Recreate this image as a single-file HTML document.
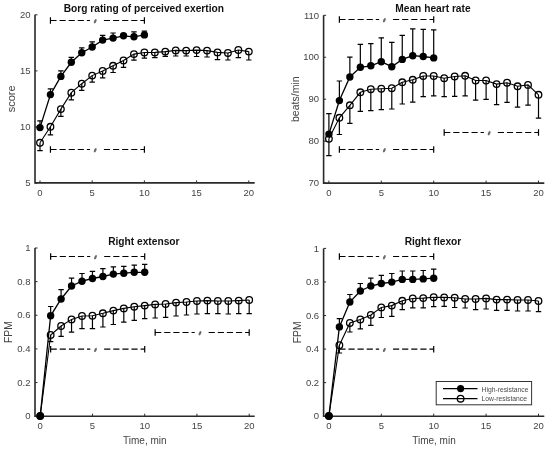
<!DOCTYPE html>
<html><head><meta charset="utf-8"><style>
html,body{margin:0;padding:0;background:#fff;}
svg{display:block;will-change:transform;}
text{font-family:"Liberation Sans",sans-serif;}
.t{font-size:9.5px;fill:#444;}
.ti{font-size:10.2px;font-weight:bold;fill:#111;}
.yl{font-size:10px;fill:#444;}
.lg{font-size:6.75px;fill:#4a4a4a;}
.hs{font-size:6px;fill:#444;font-style:italic;}
</style></head><body>
<svg width="550" height="449" viewBox="0 0 550 449">
<rect width="550" height="449" fill="#fff"/>
<path d="M35 14.8V182.9H254.7" fill="none" stroke="#2a2a2a" stroke-width="1.6"/>
<path d="M40 182.9v-2.5M92.2 182.9v-2.5M144.4 182.9v-2.5M196.6 182.9v-2.5M248.8 182.9v-2.5M35 183.1h2.5M35 127h2.5M35 70.9h2.5M35 14.8h2.5" stroke="#2a2a2a" stroke-width="1"/>
<text x="40" y="196" text-anchor="middle" class="t">0</text>
<text x="92.2" y="196" text-anchor="middle" class="t">5</text>
<text x="144.4" y="196" text-anchor="middle" class="t">10</text>
<text x="196.6" y="196" text-anchor="middle" class="t">15</text>
<text x="248.8" y="196" text-anchor="middle" class="t">20</text>
<text x="30.5" y="186.3" text-anchor="end" class="t">5</text>
<text x="30.5" y="130.2" text-anchor="end" class="t">10</text>
<text x="30.5" y="74.1" text-anchor="end" class="t">15</text>
<text x="30.5" y="18" text-anchor="end" class="t">20</text>
<text x="143.85" y="11.8" text-anchor="middle" class="ti">Borg rating of perceived exertion</text>
<text x="15.4" y="98.85" transform="rotate(-90 15.4 98.85)" text-anchor="middle" class="yl" style="font-size:11px">score</text>
<path d="M50.44 17.2v6.6M144.4 17.2v6.6" stroke="#000" stroke-width="1.2"/>
<path d="M50.44 20.5H90.02M103.92 20.5H144.4" stroke="#000" stroke-width="1.2" stroke-dasharray="6.15 2.95"/>
<ellipse cx="95.22" cy="21.2" rx="1.15" ry="2.3" transform="rotate(25 95.22 21.2)" fill="#6a6a6a"/>
<path d="M50.44 146.2v6.6M144.4 146.2v6.6" stroke="#000" stroke-width="1.2"/>
<path d="M50.44 149.5H90.02M103.92 149.5H144.4" stroke="#000" stroke-width="1.2" stroke-dasharray="6.15 2.95"/>
<ellipse cx="95.22" cy="150.2" rx="1.15" ry="2.3" transform="rotate(25 95.22 150.2)" fill="#6a6a6a"/>
<path d="M40 142.8L50.44 126.8L60.88 109.1L71.32 92.7L81.76 83.7L92.2 75.6L102.64 70.9L113.08 65.8L123.52 60.5L133.96 54.1L144.4 52.5L154.84 52.4L165.28 51.6L175.72 50.4L186.16 50.6L196.6 50.1L207.04 50.6L217.48 52.4L227.92 53L238.36 50L248.8 51.6" fill="none" stroke="#000" stroke-width="1.1"/>
<path d="M40 127.6L50.44 94.6L60.88 76.4L71.32 62.3L81.76 52.7L92.2 47L102.64 40.1L113.08 38.1L123.52 35.8L133.96 36.8L144.4 34.9" fill="none" stroke="#000" stroke-width="1.3"/>
<path d="M40 127.6V120.8M37.3 120.8h5.4M50.44 94.6V88.8M47.74 88.8h5.4M60.88 76.4V70.9M58.18 70.9h5.4M71.32 62.3V57.4M68.62 57.4h5.4M81.76 52.7V47.8M79.06 47.8h5.4M92.2 47V41.9M89.5 41.9h5.4M102.64 40.1V35.3M99.94 35.3h5.4M113.08 38.1V33M110.38 33h5.4M133.96 36.8V31.8M131.26 31.8h5.4M144.4 34.9V31.2M141.7 31.2h5.4M40 142.8V150.7M37.3 150.7h5.4M50.44 126.8V134.8M47.74 134.8h5.4M60.88 109.1V116.4M58.18 116.4h5.4M71.32 92.7V99.8M68.62 99.8h5.4M81.76 83.7V90.4M79.06 90.4h5.4M92.2 75.6V82.1M89.5 82.1h5.4M102.64 70.9V77.9M99.94 77.9h5.4M113.08 65.8V72.5M110.38 72.5h5.4M123.52 60.5V67.3M120.82 67.3h5.4M133.96 54.1V60.1M131.26 60.1h5.4M144.4 52.5V58.2M141.7 58.2h5.4M154.84 52.4V57.6M152.14 57.6h5.4M165.28 51.6V56.4M162.58 56.4h5.4M175.72 50.4V56M173.02 56h5.4M186.16 50.6V56M183.46 56h5.4M196.6 50.1V56.5M193.9 56.5h5.4M207.04 50.6V57M204.34 57h5.4M217.48 52.4V59.6M214.78 59.6h5.4M227.92 53V60M225.22 60h5.4M238.36 50V57.6M235.66 57.6h5.4M248.8 51.6V60M246.1 60h5.4" fill="none" stroke="#000" stroke-width="1.2"/>
<circle cx="40" cy="142.8" r="3.3" fill="none" stroke="#000" stroke-width="1.3"/>
<circle cx="50.44" cy="126.8" r="3.3" fill="none" stroke="#000" stroke-width="1.3"/>
<circle cx="60.88" cy="109.1" r="3.3" fill="none" stroke="#000" stroke-width="1.3"/>
<circle cx="71.32" cy="92.7" r="3.3" fill="none" stroke="#000" stroke-width="1.3"/>
<circle cx="81.76" cy="83.7" r="3.3" fill="none" stroke="#000" stroke-width="1.3"/>
<circle cx="92.2" cy="75.6" r="3.3" fill="none" stroke="#000" stroke-width="1.3"/>
<circle cx="102.64" cy="70.9" r="3.3" fill="none" stroke="#000" stroke-width="1.3"/>
<circle cx="113.08" cy="65.8" r="3.3" fill="none" stroke="#000" stroke-width="1.3"/>
<circle cx="123.52" cy="60.5" r="3.3" fill="none" stroke="#000" stroke-width="1.3"/>
<circle cx="133.96" cy="54.1" r="3.3" fill="none" stroke="#000" stroke-width="1.3"/>
<circle cx="144.4" cy="52.5" r="3.3" fill="none" stroke="#000" stroke-width="1.3"/>
<circle cx="154.84" cy="52.4" r="3.3" fill="none" stroke="#000" stroke-width="1.3"/>
<circle cx="165.28" cy="51.6" r="3.3" fill="none" stroke="#000" stroke-width="1.3"/>
<circle cx="175.72" cy="50.4" r="3.3" fill="none" stroke="#000" stroke-width="1.3"/>
<circle cx="186.16" cy="50.6" r="3.3" fill="none" stroke="#000" stroke-width="1.3"/>
<circle cx="196.6" cy="50.1" r="3.3" fill="none" stroke="#000" stroke-width="1.3"/>
<circle cx="207.04" cy="50.6" r="3.3" fill="none" stroke="#000" stroke-width="1.3"/>
<circle cx="217.48" cy="52.4" r="3.3" fill="none" stroke="#000" stroke-width="1.3"/>
<circle cx="227.92" cy="53" r="3.3" fill="none" stroke="#000" stroke-width="1.3"/>
<circle cx="238.36" cy="50" r="3.3" fill="none" stroke="#000" stroke-width="1.3"/>
<circle cx="248.8" cy="51.6" r="3.3" fill="none" stroke="#000" stroke-width="1.3"/>
<circle cx="40" cy="127.6" r="3.7" fill="#000"/>
<circle cx="50.44" cy="94.6" r="3.7" fill="#000"/>
<circle cx="60.88" cy="76.4" r="3.7" fill="#000"/>
<circle cx="71.32" cy="62.3" r="3.7" fill="#000"/>
<circle cx="81.76" cy="52.7" r="3.7" fill="#000"/>
<circle cx="92.2" cy="47" r="3.7" fill="#000"/>
<circle cx="102.64" cy="40.1" r="3.7" fill="#000"/>
<circle cx="113.08" cy="38.1" r="3.7" fill="#000"/>
<circle cx="123.52" cy="35.8" r="3.7" fill="#000"/>
<circle cx="133.96" cy="36.8" r="3.7" fill="#000"/>
<circle cx="144.4" cy="34.9" r="3.7" fill="#000"/>
<path d="M323.6 15.3V183.1H544.3" fill="none" stroke="#2a2a2a" stroke-width="1.6"/>
<path d="M328.9 183.1v-2.5M381.3 183.1v-2.5M433.7 183.1v-2.5M486.1 183.1v-2.5M538.5 183.1v-2.5M323.6 183.1h2.5M323.6 141.15h2.5M323.6 99.2h2.5M323.6 57.25h2.5M323.6 15.3h2.5" stroke="#2a2a2a" stroke-width="1"/>
<text x="328.9" y="196.2" text-anchor="middle" class="t">0</text>
<text x="381.3" y="196.2" text-anchor="middle" class="t">5</text>
<text x="433.7" y="196.2" text-anchor="middle" class="t">10</text>
<text x="486.1" y="196.2" text-anchor="middle" class="t">15</text>
<text x="538.5" y="196.2" text-anchor="middle" class="t">20</text>
<text x="319.1" y="186.3" text-anchor="end" class="t">70</text>
<text x="319.1" y="144.35" text-anchor="end" class="t">80</text>
<text x="319.1" y="102.4" text-anchor="end" class="t">90</text>
<text x="319.1" y="60.45" text-anchor="end" class="t">100</text>
<text x="319.1" y="18.5" text-anchor="end" class="t">110</text>
<text x="432.95" y="12.3" text-anchor="middle" class="ti">Mean heart rate</text>
<text x="298.8" y="99.2" transform="rotate(-90 298.8 99.2)" text-anchor="middle" class="yl" style="font-size:10.5px">beats/min</text>
<path d="M339.38 16.2v6.6M433.7 16.2v6.6" stroke="#000" stroke-width="1.2"/>
<path d="M339.38 19.5H379.14M393.04 19.5H433.7" stroke="#000" stroke-width="1.2" stroke-dasharray="6.15 2.95"/>
<ellipse cx="384.34" cy="20.2" rx="1.15" ry="2.3" transform="rotate(25 384.34 20.2)" fill="#6a6a6a"/>
<path d="M339.38 146.2v6.6M433.7 146.2v6.6" stroke="#000" stroke-width="1.2"/>
<path d="M339.38 149.5H379.14M393.04 149.5H433.7" stroke="#000" stroke-width="1.2" stroke-dasharray="6.15 2.95"/>
<ellipse cx="384.34" cy="150.2" rx="1.15" ry="2.3" transform="rotate(25 384.34 150.2)" fill="#6a6a6a"/>
<path d="M444.18 129.2v6.6M538.5 129.2v6.6" stroke="#000" stroke-width="1.2"/>
<path d="M444.18 132.5H483.94M497.84 132.5H538.5" stroke="#000" stroke-width="1.2" stroke-dasharray="6.15 2.95"/>
<ellipse cx="489.14" cy="133.2" rx="1.15" ry="2.3" transform="rotate(25 489.14 133.2)" fill="#6a6a6a"/>
<path d="M328.9 138.8L339.38 117.8L349.86 105.3L360.34 92.3L370.82 89.2L381.3 88.7L391.78 88.2L402.26 82.3L412.74 79.8L423.22 76L433.7 76L444.18 78.2L454.66 76.5L465.14 75.8L475.62 80.5L486.1 80.5L496.58 84.1L507.06 82.7L517.54 86.3L528.02 84.9L538.5 94.8" fill="none" stroke="#000" stroke-width="1.1"/>
<path d="M328.9 134.1L339.38 100.6L349.86 77L360.34 67.3L370.82 65.8L381.3 61.7L391.78 66.7L402.26 59.4L412.74 55.7L423.22 56.5L433.7 57.9" fill="none" stroke="#000" stroke-width="1.3"/>
<path d="M328.9 134.1V113.7M326.2 113.7h5.4M339.38 100.6V81M336.68 81h5.4M349.86 77V57.1M347.16 57.1h5.4M360.34 67.3V44.4M357.64 44.4h5.4M370.82 65.8V43.6M368.12 43.6h5.4M381.3 61.7V37.8M378.6 37.8h5.4M391.78 66.7V42.4M389.08 42.4h5.4M402.26 59.4V35.4M399.56 35.4h5.4M412.74 55.7V28.8M410.04 28.8h5.4M423.22 56.5V29.3M420.52 29.3h5.4M433.7 57.9V29.8M431 29.8h5.4M328.9 138.8V155.6M326.2 155.6h5.4M339.38 117.8V134.5M336.68 134.5h5.4M349.86 105.3V123.3M347.16 123.3h5.4M360.34 92.3V111.3M357.64 111.3h5.4M370.82 89.2V110.6M368.12 110.6h5.4M381.3 88.7V109.6M378.6 109.6h5.4M391.78 88.2V109M389.08 109h5.4M402.26 82.3V104M399.56 104h5.4M412.74 79.8V102.1M410.04 102.1h5.4M423.22 76V96.7M420.52 96.7h5.4M433.7 76V95.8M431 95.8h5.4M444.18 78.2V96.7M441.48 96.7h5.4M454.66 76.5V96.3M451.96 96.3h5.4M465.14 75.8V95.8M462.44 95.8h5.4M475.62 80.5V100.2M472.92 100.2h5.4M486.1 80.5V99.4M483.4 99.4h5.4M496.58 84.1V104.6M493.88 104.6h5.4M507.06 82.7V102.3M504.36 102.3h5.4M517.54 86.3V107.2M514.84 107.2h5.4M528.02 84.9V105.1M525.32 105.1h5.4M538.5 94.8V118.2M535.8 118.2h5.4" fill="none" stroke="#000" stroke-width="1.2"/>
<circle cx="328.9" cy="138.8" r="3.3" fill="none" stroke="#000" stroke-width="1.3"/>
<circle cx="339.38" cy="117.8" r="3.3" fill="none" stroke="#000" stroke-width="1.3"/>
<circle cx="349.86" cy="105.3" r="3.3" fill="none" stroke="#000" stroke-width="1.3"/>
<circle cx="360.34" cy="92.3" r="3.3" fill="none" stroke="#000" stroke-width="1.3"/>
<circle cx="370.82" cy="89.2" r="3.3" fill="none" stroke="#000" stroke-width="1.3"/>
<circle cx="381.3" cy="88.7" r="3.3" fill="none" stroke="#000" stroke-width="1.3"/>
<circle cx="391.78" cy="88.2" r="3.3" fill="none" stroke="#000" stroke-width="1.3"/>
<circle cx="402.26" cy="82.3" r="3.3" fill="none" stroke="#000" stroke-width="1.3"/>
<circle cx="412.74" cy="79.8" r="3.3" fill="none" stroke="#000" stroke-width="1.3"/>
<circle cx="423.22" cy="76" r="3.3" fill="none" stroke="#000" stroke-width="1.3"/>
<circle cx="433.7" cy="76" r="3.3" fill="none" stroke="#000" stroke-width="1.3"/>
<circle cx="444.18" cy="78.2" r="3.3" fill="none" stroke="#000" stroke-width="1.3"/>
<circle cx="454.66" cy="76.5" r="3.3" fill="none" stroke="#000" stroke-width="1.3"/>
<circle cx="465.14" cy="75.8" r="3.3" fill="none" stroke="#000" stroke-width="1.3"/>
<circle cx="475.62" cy="80.5" r="3.3" fill="none" stroke="#000" stroke-width="1.3"/>
<circle cx="486.1" cy="80.5" r="3.3" fill="none" stroke="#000" stroke-width="1.3"/>
<circle cx="496.58" cy="84.1" r="3.3" fill="none" stroke="#000" stroke-width="1.3"/>
<circle cx="507.06" cy="82.7" r="3.3" fill="none" stroke="#000" stroke-width="1.3"/>
<circle cx="517.54" cy="86.3" r="3.3" fill="none" stroke="#000" stroke-width="1.3"/>
<circle cx="528.02" cy="84.9" r="3.3" fill="none" stroke="#000" stroke-width="1.3"/>
<circle cx="538.5" cy="94.8" r="3.3" fill="none" stroke="#000" stroke-width="1.3"/>
<circle cx="328.9" cy="134.1" r="3.7" fill="#000"/>
<circle cx="339.38" cy="100.6" r="3.7" fill="#000"/>
<circle cx="349.86" cy="77" r="3.7" fill="#000"/>
<circle cx="360.34" cy="67.3" r="3.7" fill="#000"/>
<circle cx="370.82" cy="65.8" r="3.7" fill="#000"/>
<circle cx="381.3" cy="61.7" r="3.7" fill="#000"/>
<circle cx="391.78" cy="66.7" r="3.7" fill="#000"/>
<circle cx="402.26" cy="59.4" r="3.7" fill="#000"/>
<circle cx="412.74" cy="55.7" r="3.7" fill="#000"/>
<circle cx="423.22" cy="56.5" r="3.7" fill="#000"/>
<circle cx="433.7" cy="57.9" r="3.7" fill="#000"/>
<path d="M35 248V416.2H254.7" fill="none" stroke="#2a2a2a" stroke-width="1.6"/>
<path d="M40.2 416.2v-2.5M92.45 416.2v-2.5M144.7 416.2v-2.5M196.95 416.2v-2.5M249.2 416.2v-2.5M35 416.2h2.5M35 382.56h2.5M35 348.92h2.5M35 315.28h2.5M35 281.64h2.5M35 248h2.5" stroke="#2a2a2a" stroke-width="1"/>
<text x="40.2" y="429.3" text-anchor="middle" class="t">0</text>
<text x="92.45" y="429.3" text-anchor="middle" class="t">5</text>
<text x="144.7" y="429.3" text-anchor="middle" class="t">10</text>
<text x="196.95" y="429.3" text-anchor="middle" class="t">15</text>
<text x="249.2" y="429.3" text-anchor="middle" class="t">20</text>
<text x="30.5" y="419.4" text-anchor="end" class="t">0</text>
<text x="30.5" y="385.76" text-anchor="end" class="t">0.2</text>
<text x="30.5" y="352.12" text-anchor="end" class="t">0.4</text>
<text x="30.5" y="318.48" text-anchor="end" class="t">0.6</text>
<text x="30.5" y="284.84" text-anchor="end" class="t">0.8</text>
<text x="30.5" y="251.2" text-anchor="end" class="t">1</text>
<text x="143.85" y="245" text-anchor="middle" class="ti">Right extensor</text>
<text x="11.8" y="332.1" transform="rotate(-90 11.8 332.1)" text-anchor="middle" class="yl" style="font-size:10.4px">FPM</text>
<text x="144.85" y="444.2" text-anchor="middle" class="yl">Time, min</text>
<path d="M50.65 253.2v6.6M144.7 253.2v6.6" stroke="#000" stroke-width="1.2"/>
<path d="M50.65 256.5H90.27M104.17 256.5H144.7" stroke="#000" stroke-width="1.2" stroke-dasharray="6.15 2.95"/>
<ellipse cx="95.47" cy="257.2" rx="1.15" ry="2.3" transform="rotate(25 95.47 257.2)" fill="#6a6a6a"/>
<path d="M50.65 345.9v6.6M144.7 345.9v6.6" stroke="#000" stroke-width="1.2"/>
<path d="M50.65 349.2H90.27M104.17 349.2H144.7" stroke="#000" stroke-width="1.2" stroke-dasharray="6.15 2.95"/>
<ellipse cx="95.47" cy="349.9" rx="1.15" ry="2.3" transform="rotate(25 95.47 349.9)" fill="#6a6a6a"/>
<path d="M155.15 329.2v6.6M249.2 329.2v6.6" stroke="#000" stroke-width="1.2"/>
<path d="M155.15 332.5H194.77M208.67 332.5H249.2" stroke="#000" stroke-width="1.2" stroke-dasharray="6.15 2.95"/>
<ellipse cx="199.97" cy="333.2" rx="1.15" ry="2.3" transform="rotate(25 199.97 333.2)" fill="#6a6a6a"/>
<path d="M40.2 416L50.65 335L61.1 326L71.55 319.4L82 316L92.45 315.7L102.9 313.3L113.35 310.6L123.8 308.4L134.25 306.7L144.7 305.6L155.15 304.4L165.6 304L176.05 302.6L186.5 302L196.95 301L207.4 300.6L217.85 301L228.3 301L238.75 300.6L249.2 300" fill="none" stroke="#000" stroke-width="1.1"/>
<path d="M40.2 416L50.65 315.8L61.1 299L71.55 286L82 281.2L92.45 278.5L102.9 276.5L113.35 274.1L123.8 273.2L134.25 272.3L144.7 272.3" fill="none" stroke="#000" stroke-width="1.3"/>
<path d="M50.65 315.8V306.5M47.95 306.5h5.4M61.1 299V289.6M58.4 289.6h5.4M71.55 286V278.2M68.85 278.2h5.4M82 281.2V273.5M79.3 273.5h5.4M92.45 278.5V271.4M89.75 271.4h5.4M102.9 276.5V268.7M100.2 268.7h5.4M113.35 274.1V266.9M110.65 266.9h5.4M123.8 273.2V266.4M121.1 266.4h5.4M134.25 272.3V265.1M131.55 265.1h5.4M144.7 272.3V264.3M142 264.3h5.4M50.65 335V341.7M47.95 341.7h5.4M61.1 326V336.3M58.4 336.3h5.4M71.55 319.4V332.1M68.85 332.1h5.4M82 316V328.7M79.3 328.7h5.4M92.45 315.7V328.6M89.75 328.6h5.4M102.9 313.3V327M100.2 327h5.4M113.35 310.6V324.5M110.65 324.5h5.4M123.8 308.4V322.2M121.1 322.2h5.4M134.25 306.7V320.4M131.55 320.4h5.4M144.7 305.6V318.6M142 318.6h5.4M155.15 304.4V318M152.45 318h5.4M165.6 304V317.4M162.9 317.4h5.4M176.05 302.6V316M173.35 316h5.4M186.5 302V315M183.8 315h5.4M196.95 301V314M194.25 314h5.4M207.4 300.6V313.6M204.7 313.6h5.4M217.85 301V313.6M215.15 313.6h5.4M228.3 301V314M225.6 314h5.4M238.75 300.6V313.6M236.05 313.6h5.4M249.2 300V313.6M246.5 313.6h5.4" fill="none" stroke="#000" stroke-width="1.2"/>
<circle cx="40.2" cy="416" r="3.3" fill="none" stroke="#000" stroke-width="1.3"/>
<circle cx="50.65" cy="335" r="3.3" fill="none" stroke="#000" stroke-width="1.3"/>
<circle cx="61.1" cy="326" r="3.3" fill="none" stroke="#000" stroke-width="1.3"/>
<circle cx="71.55" cy="319.4" r="3.3" fill="none" stroke="#000" stroke-width="1.3"/>
<circle cx="82" cy="316" r="3.3" fill="none" stroke="#000" stroke-width="1.3"/>
<circle cx="92.45" cy="315.7" r="3.3" fill="none" stroke="#000" stroke-width="1.3"/>
<circle cx="102.9" cy="313.3" r="3.3" fill="none" stroke="#000" stroke-width="1.3"/>
<circle cx="113.35" cy="310.6" r="3.3" fill="none" stroke="#000" stroke-width="1.3"/>
<circle cx="123.8" cy="308.4" r="3.3" fill="none" stroke="#000" stroke-width="1.3"/>
<circle cx="134.25" cy="306.7" r="3.3" fill="none" stroke="#000" stroke-width="1.3"/>
<circle cx="144.7" cy="305.6" r="3.3" fill="none" stroke="#000" stroke-width="1.3"/>
<circle cx="155.15" cy="304.4" r="3.3" fill="none" stroke="#000" stroke-width="1.3"/>
<circle cx="165.6" cy="304" r="3.3" fill="none" stroke="#000" stroke-width="1.3"/>
<circle cx="176.05" cy="302.6" r="3.3" fill="none" stroke="#000" stroke-width="1.3"/>
<circle cx="186.5" cy="302" r="3.3" fill="none" stroke="#000" stroke-width="1.3"/>
<circle cx="196.95" cy="301" r="3.3" fill="none" stroke="#000" stroke-width="1.3"/>
<circle cx="207.4" cy="300.6" r="3.3" fill="none" stroke="#000" stroke-width="1.3"/>
<circle cx="217.85" cy="301" r="3.3" fill="none" stroke="#000" stroke-width="1.3"/>
<circle cx="228.3" cy="301" r="3.3" fill="none" stroke="#000" stroke-width="1.3"/>
<circle cx="238.75" cy="300.6" r="3.3" fill="none" stroke="#000" stroke-width="1.3"/>
<circle cx="249.2" cy="300" r="3.3" fill="none" stroke="#000" stroke-width="1.3"/>
<circle cx="40.2" cy="416" r="3.7" fill="#000"/>
<circle cx="50.65" cy="315.8" r="3.7" fill="#000"/>
<circle cx="61.1" cy="299" r="3.7" fill="#000"/>
<circle cx="71.55" cy="286" r="3.7" fill="#000"/>
<circle cx="82" cy="281.2" r="3.7" fill="#000"/>
<circle cx="92.45" cy="278.5" r="3.7" fill="#000"/>
<circle cx="102.9" cy="276.5" r="3.7" fill="#000"/>
<circle cx="113.35" cy="274.1" r="3.7" fill="#000"/>
<circle cx="123.8" cy="273.2" r="3.7" fill="#000"/>
<circle cx="134.25" cy="272.3" r="3.7" fill="#000"/>
<circle cx="144.7" cy="272.3" r="3.7" fill="#000"/>
<path d="M323.6 248.4V416.2H544.3" fill="none" stroke="#2a2a2a" stroke-width="1.6"/>
<path d="M328.9 416.2v-2.5M381.3 416.2v-2.5M433.7 416.2v-2.5M486.1 416.2v-2.5M538.5 416.2v-2.5M323.6 416.2h2.5M323.6 382.64h2.5M323.6 349.08h2.5M323.6 315.52h2.5M323.6 281.96h2.5M323.6 248.4h2.5" stroke="#2a2a2a" stroke-width="1"/>
<text x="328.9" y="429.3" text-anchor="middle" class="t">0</text>
<text x="381.3" y="429.3" text-anchor="middle" class="t">5</text>
<text x="433.7" y="429.3" text-anchor="middle" class="t">10</text>
<text x="486.1" y="429.3" text-anchor="middle" class="t">15</text>
<text x="538.5" y="429.3" text-anchor="middle" class="t">20</text>
<text x="319.1" y="419.4" text-anchor="end" class="t">0</text>
<text x="319.1" y="385.84" text-anchor="end" class="t">0.2</text>
<text x="319.1" y="352.28" text-anchor="end" class="t">0.4</text>
<text x="319.1" y="318.72" text-anchor="end" class="t">0.6</text>
<text x="319.1" y="285.16" text-anchor="end" class="t">0.8</text>
<text x="319.1" y="251.6" text-anchor="end" class="t">1</text>
<text x="432.95" y="245.4" text-anchor="middle" class="ti">Right flexor</text>
<text x="300.9" y="332.3" transform="rotate(-90 300.9 332.3)" text-anchor="middle" class="yl" style="font-size:10.4px">FPM</text>
<text x="433.95" y="444.2" text-anchor="middle" class="yl">Time, min</text>
<path d="M339.38 253.2v6.6M433.7 253.2v6.6" stroke="#000" stroke-width="1.2"/>
<path d="M339.38 256.5H379.14M393.04 256.5H433.7" stroke="#000" stroke-width="1.2" stroke-dasharray="6.15 2.95"/>
<ellipse cx="384.34" cy="257.2" rx="1.15" ry="2.3" transform="rotate(25 384.34 257.2)" fill="#6a6a6a"/>
<path d="M339.38 345.9v6.6M433.7 345.9v6.6" stroke="#000" stroke-width="1.2"/>
<path d="M339.38 349.2H379.14M393.04 349.2H433.7" stroke="#000" stroke-width="1.2" stroke-dasharray="6.15 2.95"/>
<ellipse cx="384.34" cy="349.9" rx="1.15" ry="2.3" transform="rotate(25 384.34 349.9)" fill="#6a6a6a"/>
<path d="M328.9 416L339.38 345.2L349.86 323L360.34 319.5L370.82 314.9L381.3 307.4L391.78 305.6L402.26 300.8L412.74 298.5L423.22 298.1L433.7 297.2L444.18 297.4L454.66 297.7L465.14 299L475.62 299L486.1 298.4L496.58 299.6L507.06 299.6L517.54 300L528.02 300L538.5 301" fill="none" stroke="#000" stroke-width="1.1"/>
<path d="M328.9 416L339.38 326.9L349.86 302L360.34 291L370.82 286L381.3 283.5L391.78 282.1L402.26 279.4L412.74 279.4L423.22 278.9L433.7 278.2" fill="none" stroke="#000" stroke-width="1.3"/>
<path d="M339.38 326.9V318.6M336.68 318.6h5.4M349.86 302V294.5M347.16 294.5h5.4M360.34 291V283.5M357.64 283.5h5.4M370.82 286V278.2M368.12 278.2h5.4M381.3 283.5V275.3M378.6 275.3h5.4M391.78 282.1V273.5M389.08 273.5h5.4M402.26 279.4V271M399.56 271h5.4M412.74 279.4V271M410.04 271h5.4M423.22 278.9V270.5M420.52 270.5h5.4M433.7 278.2V269.2M431 269.2h5.4M339.38 345.2V353M336.68 353h5.4M349.86 323V332M347.16 332h5.4M360.34 319.5V328.8M357.64 328.8h5.4M370.82 314.9V325.3M368.12 325.3h5.4M381.3 307.4V317.5M378.6 317.5h5.4M391.78 305.6V316.3M389.08 316.3h5.4M402.26 300.8V309.7M399.56 309.7h5.4M412.74 298.5V307.9M410.04 307.9h5.4M423.22 298.1V307.9M420.52 307.9h5.4M433.7 297.2V306.7M431 306.7h5.4M444.18 297.4V306.3M441.48 306.3h5.4M454.66 297.7V307.5M451.96 307.5h5.4M465.14 299V308M462.44 308h5.4M475.62 299V309.6M472.92 309.6h5.4M486.1 298.4V309M483.4 309h5.4M496.58 299.6V310.4M493.88 310.4h5.4M507.06 299.6V310.4M504.36 310.4h5.4M517.54 300V311M514.84 311h5.4M528.02 300V311M525.32 311h5.4M538.5 301V311.6M535.8 311.6h5.4" fill="none" stroke="#000" stroke-width="1.2"/>
<circle cx="328.9" cy="416" r="3.3" fill="none" stroke="#000" stroke-width="1.3"/>
<circle cx="339.38" cy="345.2" r="3.3" fill="none" stroke="#000" stroke-width="1.3"/>
<circle cx="349.86" cy="323" r="3.3" fill="none" stroke="#000" stroke-width="1.3"/>
<circle cx="360.34" cy="319.5" r="3.3" fill="none" stroke="#000" stroke-width="1.3"/>
<circle cx="370.82" cy="314.9" r="3.3" fill="none" stroke="#000" stroke-width="1.3"/>
<circle cx="381.3" cy="307.4" r="3.3" fill="none" stroke="#000" stroke-width="1.3"/>
<circle cx="391.78" cy="305.6" r="3.3" fill="none" stroke="#000" stroke-width="1.3"/>
<circle cx="402.26" cy="300.8" r="3.3" fill="none" stroke="#000" stroke-width="1.3"/>
<circle cx="412.74" cy="298.5" r="3.3" fill="none" stroke="#000" stroke-width="1.3"/>
<circle cx="423.22" cy="298.1" r="3.3" fill="none" stroke="#000" stroke-width="1.3"/>
<circle cx="433.7" cy="297.2" r="3.3" fill="none" stroke="#000" stroke-width="1.3"/>
<circle cx="444.18" cy="297.4" r="3.3" fill="none" stroke="#000" stroke-width="1.3"/>
<circle cx="454.66" cy="297.7" r="3.3" fill="none" stroke="#000" stroke-width="1.3"/>
<circle cx="465.14" cy="299" r="3.3" fill="none" stroke="#000" stroke-width="1.3"/>
<circle cx="475.62" cy="299" r="3.3" fill="none" stroke="#000" stroke-width="1.3"/>
<circle cx="486.1" cy="298.4" r="3.3" fill="none" stroke="#000" stroke-width="1.3"/>
<circle cx="496.58" cy="299.6" r="3.3" fill="none" stroke="#000" stroke-width="1.3"/>
<circle cx="507.06" cy="299.6" r="3.3" fill="none" stroke="#000" stroke-width="1.3"/>
<circle cx="517.54" cy="300" r="3.3" fill="none" stroke="#000" stroke-width="1.3"/>
<circle cx="528.02" cy="300" r="3.3" fill="none" stroke="#000" stroke-width="1.3"/>
<circle cx="538.5" cy="301" r="3.3" fill="none" stroke="#000" stroke-width="1.3"/>
<circle cx="328.9" cy="416" r="3.7" fill="#000"/>
<circle cx="339.38" cy="326.9" r="3.7" fill="#000"/>
<circle cx="349.86" cy="302" r="3.7" fill="#000"/>
<circle cx="360.34" cy="291" r="3.7" fill="#000"/>
<circle cx="370.82" cy="286" r="3.7" fill="#000"/>
<circle cx="381.3" cy="283.5" r="3.7" fill="#000"/>
<circle cx="391.78" cy="282.1" r="3.7" fill="#000"/>
<circle cx="402.26" cy="279.4" r="3.7" fill="#000"/>
<circle cx="412.74" cy="279.4" r="3.7" fill="#000"/>
<circle cx="423.22" cy="278.9" r="3.7" fill="#000"/>
<circle cx="433.7" cy="278.2" r="3.7" fill="#000"/>
<rect x="436.2" y="381.5" width="95.4" height="23.3" fill="#fff" stroke="#333" stroke-width="1"/>
<path d="M443 388.6H477.5M443 398.7H477.5" stroke="#000" stroke-width="1.3"/>
<circle cx="460.6" cy="388.6" r="3.6" fill="#000"/>
<circle cx="460.6" cy="398.7" r="3.3" fill="none" stroke="#000" stroke-width="1.3"/>
<text x="481.6" y="391.6" class="lg">High-resistance</text>
<text x="481.6" y="401.3" class="lg">Low-resistance</text>
</svg>
</body></html>
